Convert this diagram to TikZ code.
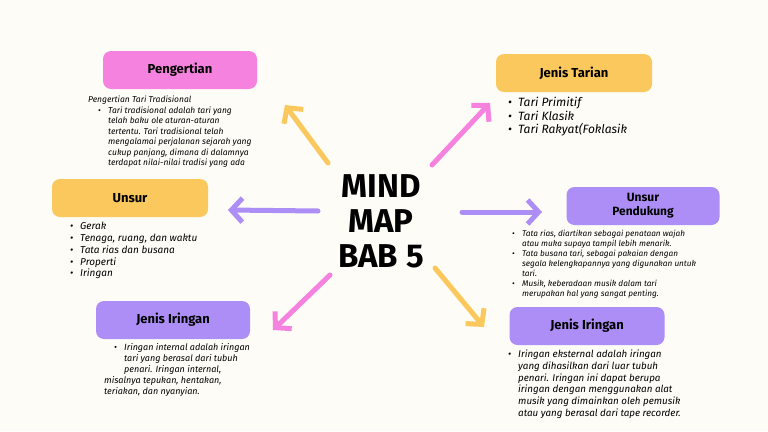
\documentclass[tikz,border=0pt]{standalone}
\usepackage{fontspec}
\usetikzlibrary{arrows.meta}
\setmainfont{Fira Sans}
\begin{document}
\begin{tikzpicture}[x=1pt,y=-1pt,
  box/.style={rounded corners=8pt,minimum width=154pt,minimum height=38pt,font=\fontsize{13}{15}\selectfont\bfseries,text=black,align=center},
  arr/.style={line width=5pt,-{Straight Barb[length=11pt,width=24pt,line width=5pt]},line cap=round},
  txt/.style={anchor=north west,align=left,font=\itshape,inner sep=0pt,text=black}]
\definecolor{bg}{RGB}{253,252,246}
\definecolor{pinkc}{RGB}{245,130,222}
\definecolor{yelc}{RGB}{250,200,92}
\definecolor{purc}{RGB}{172,142,246}
\newcommand{\bl}{\makebox[10pt][l]{\textbullet}}
\newcommand{\ind}{\hspace*{10pt}}
\fill[bg] (0,0) rectangle (768,431);
\useasboundingbox (0,0) rectangle (768,431);
\node[box,fill=pinkc] (p) at (180,70) {Pengertian};
\node[box,fill=yelc,minimum width=156pt] (jt) at (574,73) {Jenis Tarian};
\node[box,fill=yelc,minimum width=156pt] (u) at (130,198) {Unsur};
\node[box,fill=purc,minimum width=153pt,font=\fontsize{12}{14}\selectfont\bfseries] (up) at (643,206) {Unsur\\Pendukung};
\node[box,fill=purc] (ji1) at (173,320) {Jenis Iringan};
\node[box,fill=purc,minimum width=155pt] (ji2) at (587,326) {Jenis Iringan};
\node[font=\fontsize{33}{35}\selectfont\bfseries,align=center] (c) at (381,221) {MIND\\MAP\\BAB 5};
\coordinate (a1s) at (328,163); \coordinate (a1e) at (285,105);
\coordinate (a2s) at (432,165); \coordinate (a2e) at (490,103);
\coordinate (a3s) at (318,211); \coordinate (a3e) at (228,210);
\coordinate (a4s) at (462,212); \coordinate (a4e) at (542,212);
\coordinate (a5s) at (330,275); \coordinate (a5e) at (273,330);
\coordinate (a6s) at (435,268); \coordinate (a6e) at (484,327);
\draw[arr,yelc] (a1s) -- (a1e);
\draw[arr,pinkc] (a2s) -- (a2e);
\draw[arr,purc] (a3s) -- (a3e);
\draw[arr,purc] (a4s) -- (a4e);
\draw[arr,pinkc] (a5s) -- (a5e);
\draw[arr,yelc] (a6s) -- (a6e);
\node[txt,font=\itshape\fontsize{8.5}{10.5}\selectfont] (t1) at (88,96) {Pengertian Tari Tradisional\\
\ind\bl Tari tradisional adalah tari yang\\
\ind\ind telah baku ole aturan-aturan\\
\ind\ind tertentu. Tari tradisional telah\\
\ind\ind mengalamai perjalanan sejarah yang\\
\ind\ind cukup panjang, dimana di dalamnya\\
\ind\ind terdapat nilai-nilai tradisi yang ada};
\node[txt,font=\itshape\fontsize{12}{13.5}\selectfont] (t2) at (508,97) {\bl Tari Primitif\\\bl Tari Klasik\\\bl Tari Rakyat(Foklasik};
\node[txt,font=\itshape\fontsize{10}{11.8}\selectfont] (t3) at (70,222) {\bl Gerak\\\bl Tenaga, ruang, dan waktu\\\bl Tata rias dan busana\\\bl Properti\\\bl Iringan};
\node[txt,font=\itshape\fontsize{8.2}{10}\selectfont] (t4) at (512,230) {\bl Tata rias, diartikan sebagai penataan wajah\\
\ind atau muka supaya tampil lebih menarik.\\
\bl Tata busana tari, sebagai pakaian dengan\\
\ind segala kelengkapannya yang digunakan untuk\\
\ind tari.\\
\bl Musik, keberadaan musik dalam tari\\
\ind merupakan hal yang sangat penting.};
\node[txt,font=\itshape\fontsize{9}{11}\selectfont] (t5) at (104,343) {\ind\bl Iringan internal adalah iringan\\
\ind\ind tari yang berasal dari tubuh\\
\ind\ind penari. Iringan internal,\\
misalnya tepukan, hentakan,\\
teriakan, dan nyanyian.};
\node[txt,font=\itshape\fontsize{9.8}{11.7}\selectfont] (t6) at (508,350) {\bl Iringan eksternal adalah iringan\\
\ind yang dihasilkan dari luar tubuh\\
\ind penari. Iringan ini dapat berupa\\
\ind iringan dengan menggunakan alat\\
\ind musik yang dimainkan oleh pemusik\\
\ind atau yang berasal dari tape recorder.};
\end{tikzpicture}
\end{document}
